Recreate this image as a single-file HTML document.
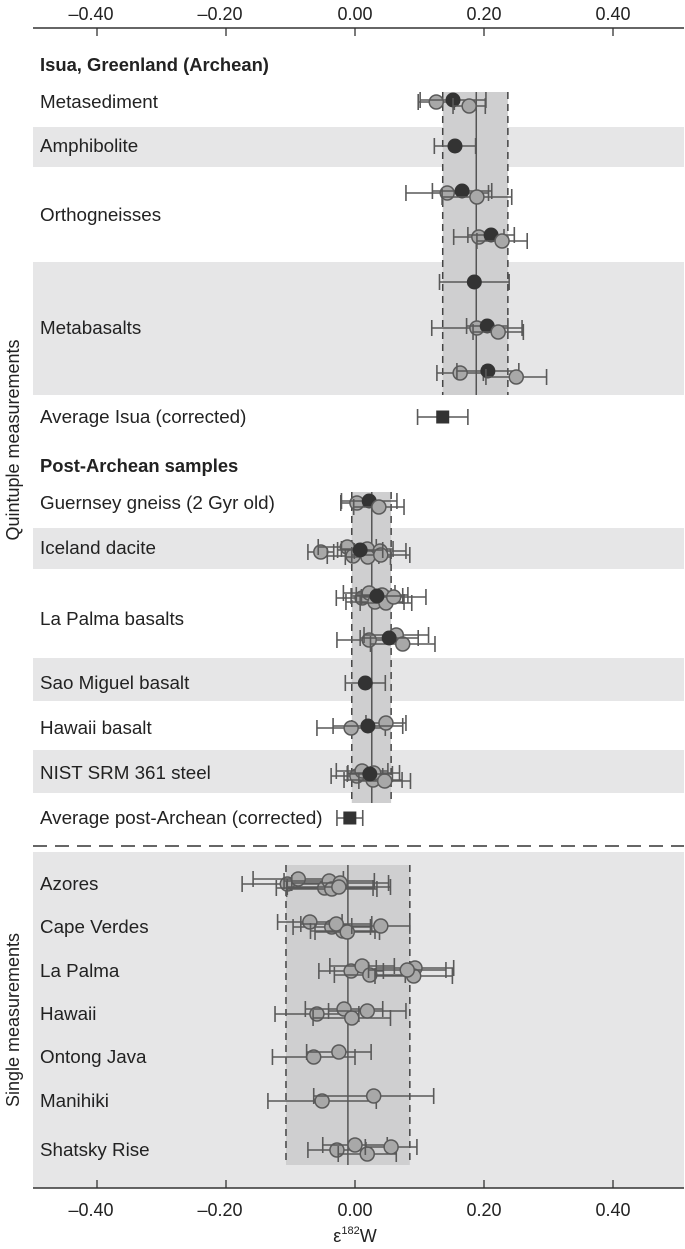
<!DOCTYPE html>
<html><head><meta charset="utf-8"><style>
html,body{margin:0;padding:0;background:#fff;}
svg{display:block;font-family:"Liberation Sans",Arial,sans-serif;}
</style></head><body>
<svg id="chart" width="685" height="1249" viewBox="0 0 685 1249" xmlns="http://www.w3.org/2000/svg"></svg>
<script>
// ---- data ----
const tickValues = [-0.4, -0.2, 0.0, 0.2, 0.4];
const tickLabels = ["\u20130.40", "\u20130.20", "0.00", "0.20", "0.40"];
const rowNames = ["Metasediment","Amphibolite","Orthogneisses","Orthogneisses-2","Metabasalts","Metabasalts-2","Metabasalts-3","Average Isua (corrected)",
 "Guernsey gneiss (2 Gyr old)","Iceland dacite","La Palma basalts","La Palma basalts-2","Sao Miguel basalt","Hawaii basalt","NIST SRM 361 steel","Average post-Archean (corrected)",
 "Azores","Cape Verdes","La Palma","Hawaii","Ontong Java","Manihiki","Shatsky Rise"];
// point row index, value, error, kind (0 gray circle, 1 black circle, 2 black square)
const pointRow = [0,0,0, 1, 2,2,2, 3,3,3, 4, 5,5,5, 6,6,6, 7,
 8,8,8, 9,9,9,9,9,9,9,9, 10,10,10,10,10,10,10, 11,11,11,11, 12, 13,13,13, 14,14,14,14,14,14, 15,
 16,16,16,16,16,16,16, 17,17,17,17,17,17, 18,18,18,18,18,18, 19,19,19,19, 20,20, 21,21, 22,22,22,22];
const pointValue = [0.126,0.152,0.177, 0.155, 0.143,0.166,0.189, 0.192,0.211,0.228, 0.185, 0.189,0.205,0.222, 0.163,0.206,0.250, 0.136,
 0.003,0.022,0.037, -0.053,-0.012,-0.003,0.019,0.020,0.039,0.040,0.008, 0.011,0.022,0.031,0.042,0.048,0.060,0.034, 0.022,0.064,0.074,0.053, 0.016, -0.006,0.048,0.020, 0.003,0.011,0.028,0.029,0.046,0.023, -0.008,
 -0.105,-0.088,-0.047,-0.040,-0.036,-0.023,-0.025, -0.036,-0.070,-0.019,-0.029,-0.012,0.040, -0.006,0.011,0.023,0.093,0.091,0.081, -0.059,-0.017,-0.005,0.019, -0.064,-0.025, -0.051,0.029, -0.028,0.000,0.019,0.056];
const pointError = [0.028,0.051,0.025, 0.032, 0.064,0.046,0.054, 0.039,0.036,0.039, 0.054, 0.070,0.032,0.039, 0.036,0.048,0.047, 0.039,
 0.025,0.043,0.039, 0.02,0.045,0.04,0.04,0.035,0.04,0.045,0.035, 0.04,0.04,0.045,0.04,0.04,0.05,0.04, 0.05,0.05,0.05,0.045, 0.031, 0.053,0.031,0.054, 0.04,0.04,0.045,0.04,0.04,0.035, 0.020,
 0.07,0.07,0.075,0.07,0.07,0.075,0.08, 0.06,0.05,0.05,0.055,0.05,0.045, 0.05,0.05,0.055,0.06,0.06,0.06, 0.065,0.06,0.06,0.06, 0.064,0.05, 0.084,0.093, 0.045,0.05,0.045,0.04];
const pointKind = [0,1,0, 1, 0,1,0, 0,1,0, 1, 0,1,0, 0,1,0, 2,
 0,1,0, 0,0,0,0,0,0,0,1, 0,0,0,0,0,0,1, 0,0,0,1, 1, 0,0,1, 0,0,0,0,0,1, 2,
 0,0,0,0,0,0,0, 0,0,0,0,0,0, 0,0,0,0,0,0, 0,0,0,0, 0,0, 0,0, 0,0,0,0];
const bandLow = [0.136, -0.005, -0.107];
const bandHigh = [0.237, 0.056, 0.085];
const bandMean = [0.188, 0.026, -0.011];

// ---- layout ----
const rowY = [102,146,193,237,282,328,373,417, 503,552,598,640,683,728,776,818, 884,927,971,1014,1057,1101,1150];
const jitter = [0,-5,4,-3,5,-1,3,-4,2];
const bandTop = [92,492,865], bandBottom = [395,803,1165];
const X0 = 355, PX = 645;
const x = v => X0 + v*PX;
const NS = "http://www.w3.org/2000/svg";
const svg = document.getElementById('chart');
function mk(tag, attrs, parent){const e=document.createElementNS(NS,tag);for(const k in attrs)e.setAttribute(k,attrs[k]);(parent||svg).appendChild(e);return e;}
function txt(s, attrs){const e=mk('text',attrs);e.textContent=s;return e;}

// row background bands
[[127,167],[262,395],[528,569],[658,701],[750,793]].forEach((b,i)=>{
 const r=mk('rect',{x:33,y:b[0],width:651,height:b[1]-b[0],fill:'#e6e6e7'});
 
 
});
const sg=mk('rect',{x:33,y:852,width:651,height:336,fill:'#e6e6e7'});



// mean bands
for(let i=0;i<3;i++){
 const g=mk('g',{});
 
 
 mk('rect',{x:x(bandLow[i]),y:bandTop[i],width:x(bandHigh[i])-x(bandLow[i]),height:bandBottom[i]-bandTop[i],fill:'#cfcfd0'},g);
 mk('line',{x1:x(bandLow[i]),x2:x(bandLow[i]),y1:bandTop[i],y2:bandBottom[i],stroke:'#444','stroke-width':1.5,'stroke-dasharray':'7,5'},g);
 mk('line',{x1:x(bandHigh[i]),x2:x(bandHigh[i]),y1:bandTop[i],y2:bandBottom[i],stroke:'#444','stroke-width':1.5,'stroke-dasharray':'7,5'},g);
 mk('line',{x1:x(bandMean[i]),x2:x(bandMean[i]),y1:bandTop[i],y2:bandBottom[i],stroke:'#555','stroke-width':1.5},g);
}

// separator dashed
const sep=mk('line',{x1:33,x2:684,y1:846,y2:846,stroke:'#333','stroke-width':1.5,'stroke-dasharray':'14,8'});



// axes
[28,1188].forEach((ay,k)=>{
 const g=mk('g',{});
 
 
 mk('line',{x1:33,x2:684,y1:ay,y2:ay,stroke:'#333','stroke-width':1.5},g);
 tickValues.forEach((t,i)=>{
  mk('line',{x1:x(t),x2:x(t),y1:ay,y2:k?ay-8:ay+8,stroke:'#333','stroke-width':1.3},g);
  const l=txt(tickLabels[i],{x:x(t)-(t<0?6:0),y:k?ay+28:ay-8,'font-size':18,'text-anchor':'middle',fill:'#222'});
  
  
  g.appendChild(l);
 });
});
const at=txt('',{x:355,y:1242,'font-size':18,'text-anchor':'middle',fill:'#222'});
at.innerHTML='\u03b5<tspan font-size="11" dy="-8">182</tspan><tspan dy="8">W</tspan>';



// headings and labels
[["Isua, Greenland (Archean)",71],["Post-Archean samples",472]].forEach(h=>{
 const t=txt(h[0],{x:40,y:h[1],'font-size':18.4,'font-weight':'bold',fill:'#222'});
 
 
});
rowNames.forEach((n,i)=>{
 if(n.indexOf('-2')>0||n.indexOf('-3')>0)return;
 let y=rowY[i];
 if(n==="Orthogneisses")y=(rowY[2]+rowY[3])/2;
 if(n==="Metabasalts")y=rowY[5];
 if(n==="La Palma basalts")y=(rowY[10]+rowY[11])/2;
 if(n==="Iceland dacite")y=548;
 if(n==="NIST SRM 361 steel")y=773;
 const t=txt(n,{x:40,y:y+6,'font-size':18.8,fill:'#222'});
 
 
});
[["Quintuple measurements",440],["Single measurements",1020]].forEach(s=>{
 const t=txt(s[0],{x:0,y:0,'font-size':18,'text-anchor':'middle',fill:'#222',transform:`translate(19,${s[1]}) rotate(-90)`});
 
 
});

// points
const counts={};
pointValue.forEach((v,i)=>{
 const r=pointRow[i];
 counts[r]=(counts[r]||0);
 const multi=pointRow.filter(q=>q===r).length>1;
 const y=rowY[r]+(multi&&pointKind[i]===0?jitter[counts[r]%jitter.length]:0)+(multi&&pointKind[i]===1?-2:0);
 counts[r]++;
 const g=mk('g',{});
 
 
 const e=pointError[i];
 mk('line',{x1:x(v-e),x2:x(v+e),y1:y,y2:y,stroke:'#595959','stroke-width':1.6},g);
 mk('line',{x1:x(v-e),x2:x(v-e),y1:y-8,y2:y+8,stroke:'#595959','stroke-width':1.6},g);
 mk('line',{x1:x(v+e),x2:x(v+e),y1:y-8,y2:y+8,stroke:'#595959','stroke-width':1.6},g);
 if(pointKind[i]===2) mk('rect',{x:x(v)-6.5,y:y-6.5,width:13,height:13,fill:'#333'},g);
 else if(pointKind[i]===1) mk('circle',{cx:x(v),cy:y,r:7.5,fill:'#333'},g);
 else mk('circle',{cx:x(v),cy:y,r:7,fill:'#a8a8a8',stroke:'#5a5a5a','stroke-width':1.5},g);
});
</script>
</body></html>
